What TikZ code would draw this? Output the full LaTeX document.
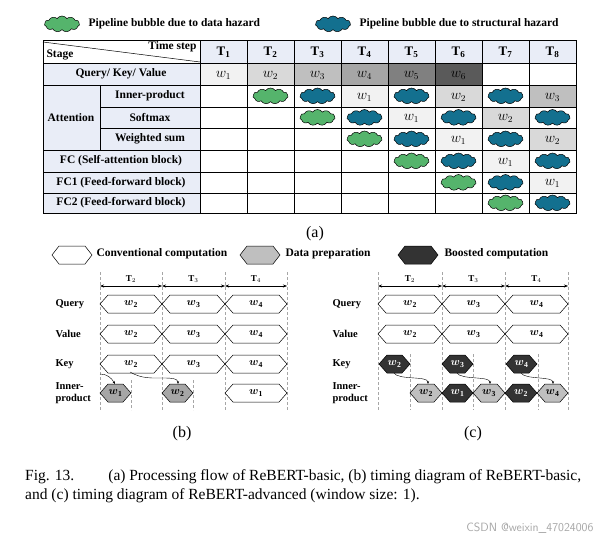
\documentclass[tikz,border=0pt]{standalone}
\usepackage{fontspec}
\usepackage{amsmath}
\setmainfont{Liberation Serif}
\usetikzlibrary{shapes.symbols,arrows.meta}
\definecolor{hdr}{HTML}{E9EDF7}
\definecolor{gb}{HTML}{55B46C}
\definecolor{bb}{HTML}{13708F}
\definecolor{ga}{HTML}{F2F2F2}
\definecolor{gbx}{HTML}{D9D9D9}
\definecolor{gc}{HTML}{BFBFBF}
\definecolor{gd}{HTML}{A6A6A6}
\definecolor{ge}{HTML}{808080}
\definecolor{gf}{HTML}{5A5A5A}
\definecolor{dk}{HTML}{333333}
\tikzset{
 cl/.style={cloud,cloud puffs=11,cloud puff arc=110,aspect=2.4,minimum width=35pt,minimum height=16pt,inner sep=0pt,draw=black,line width=0.5pt},
 gcl/.style={cl,fill=gb}, bcl/.style={cl,fill=bb},
 lab/.style={font=\bfseries\fontsize{11.5}{13}\selectfont},
 tl/.style={font=\bfseries\fontsize{9}{10}\selectfont},
 hx/.style={draw=black,line width=0.5pt},
 vd/.style={densely dashed,gray!70,line width=0.4pt},
 ar/.style={-{Stealth[length=3pt]},line width=0.4pt},
 wt/.style={font=\fontsize{13.5}{15}\selectfont},
}
\newcommand{\hexw}[6]{%
 \draw[hx,fill=#4] (#1,#3) -- ({#1+8},{#3-9}) -- ({#2-8},{#3-9}) -- (#2,#3) -- ({#2-8},{#3+9}) -- ({#1+8},{#3+9}) -- cycle;
 \node[font=\bfseries\fontsize{11}{12}\selectfont,text=#5,inner sep=1pt] at ({(#1+#2)/2},#3) {$\boldsymbol{w}_{\mathbf{#6}}$};}
\begin{document}
\begin{tikzpicture}[x=1pt,y=-1pt]
\useasboundingbox (0,0) rectangle (610,549);
% legend top
\node[gcl] (lg) at (62,24) {};
\node[lab,anchor=west] (lgt) at (85,24) {Pipeline bubble due to data hazard};
\node[bcl] (lbc) at (333,24) {};
\node[lab,anchor=west] (lbt) at (356,24) {Pipeline bubble due to structural hazard};
% table fills
\fill[hdr] (43,40) rectangle (576,63);
\fill[hdr] (43,63) rectangle (200,213);
\fill[white] (43,40) rectangle (200,63);
\foreach \c/\i in {ga/0,gbx/1,gc/2,gd/3,ge/4,gf/5} \fill[\c] ({200+47*\i},63) rectangle ({247+47*\i},85);
\newcommand{\fc}[4]{\fill[#1] ({200+47*(#2-1)},#3) rectangle ({200+47*#2},#4);}
\fc{ga}{4}{85}{107}\fc{gbx}{6}{85}{107}\fc{gc}{8}{85}{107}
\fc{ga}{5}{107}{128}\fc{gbx}{7}{107}{128}
\fc{ga}{6}{128}{150}\fc{gbx}{8}{128}{150}
\fc{ga}{7}{150}{172}
\fc{ga}{8}{172}{193}
% grid
\draw[line width=0.6pt] (43,40) rectangle (576,213);
\foreach \y in {63,85,150,172,193} \draw[line width=0.6pt] (43,\y) -- (576,\y);
\foreach \y in {107,128} \draw[line width=0.6pt] (100,\y) -- (576,\y);
\foreach \i in {0,...,7} \draw[line width=0.6pt] ({200+47*\i},40) -- ({200+47*\i},213);
\draw[line width=0.6pt] (100,85) -- (100,150);
\draw[line width=0.5pt] (43,42) -- (200,62);
\node[lab,anchor=west] (stg) at (43,55) {Stage};
\node[lab,anchor=east] (ts) at (200,47) {Time step};
\foreach \i in {1,...,8} \node[font=\bfseries\fontsize{13}{15}\selectfont] (T\i) at ({176.5+47*\i},52) {T$_{\mathbf{\i}}$};
\node[lab] (qkv) at (121,74) {Query/ Key/ Value};
\node[lab] (att) at (71,117.5) {Attention};
\node[lab] (ip) at (150,96) {Inner-product};
\node[lab] (sm) at (150,117.5) {Softmax};
\node[lab] (ws) at (150,139) {Weighted sum};
\node[lab] (fc) at (121,161) {FC (Self-attention block)};
\node[lab] (fc1) at (121,182.5) {FC1 (Feed-forward block)};
\node[lab] (fc2) at (121,203) {FC2 (Feed-forward block)};
\foreach \i in {1,...,6} \node[wt] (q\i) at ({176.5+47*\i},75) {$w_{\i}$};
\newcommand{\wc}[3]{\node[wt] (c#1#2) at ({176.5+47*#1},#2+1) {$w_{#3}$};}
\newcommand{\gcell}[2]{\node[gcl] (g#1#2) at ({176.5+47*#1},#2) {};}
\newcommand{\bcell}[2]{\node[bcl] (b#1#2) at ({176.5+47*#1},#2) {};}
\gcell{2}{96}\bcell{3}{96}\wc{4}{96}{1}\bcell{5}{96}\wc{6}{96}{2}\bcell{7}{96}\wc{8}{96}{3}
\gcell{3}{117.5}\bcell{4}{117.5}\wc{5}{117.5}{1}\bcell{6}{117.5}\wc{7}{117.5}{2}\bcell{8}{117.5}
\gcell{4}{139}\bcell{5}{139}\wc{6}{139}{1}\bcell{7}{139}\wc{8}{139}{2}
\gcell{5}{161}\bcell{6}{161}\wc{7}{161}{1}\bcell{8}{161}
\gcell{6}{182.5}\bcell{7}{182.5}\wc{8}{182.5}{1}
\gcell{7}{203}\bcell{8}{203}
\node[font=\fontsize{16}{18}\selectfont] (la) at (315,234) {(a)};
% legend bottom
\draw[hx,fill=white] (52,255) -- (59,246) -- (85,246) -- (92,255) -- (85,264) -- (59,264) -- cycle;
\node[lab,anchor=west] (l1) at (93,254) {Conventional computation};
\draw[hx,fill=gc] (240,255) -- (247,246) -- (273,246) -- (280,255) -- (273,264) -- (247,264) -- cycle;
\node[lab,anchor=west] (l2) at (282,254) {Data preparation};
\draw[hx,fill=dk] (398,255) -- (405,246) -- (431,246) -- (438,255) -- (431,264) -- (405,264) -- cycle;
\node[lab,anchor=west] (l3) at (441,254) {Boosted computation};
% (b)
\foreach \x in {100,162,225,287} \draw[vd] (\x,272) -- (\x,410);
\foreach \x in {131,193} \draw[vd] (\x,380) -- (\x,410);
\foreach \a/\b/\t in {100/162/2,162/225/3,225/287/4} {\draw[{Stealth[length=4pt]}-{Stealth[length=4pt]},line width=0.5pt] (\a,286) -- (\b,286); \node[tl] at ({(\a+\b)/2},279) {T$_{\t}$};}
\foreach \n/\y in {Query/304,Value/334,Key/364} \node[lab,anchor=west,font=\bfseries\fontsize{10.5}{12}\selectfont] (b\n) at (52,\y) {\n};
\node[lab,anchor=west,align=left,font=\bfseries\fontsize{10.5}{12.5}\selectfont] (bIP) at (52,393) {Inner-\\product};
\foreach \y in {304,334,364} {\hexw{100}{162}{\y}{white}{black}{2}\hexw{162}{225}{\y}{white}{black}{3}\hexw{225}{287}{\y}{white}{black}{4}}
\coordinate (bkl) at (100,374); \coordinate (bk2) at (130,372);
\hexw{100}{131}{393}{gd}{black}{1}\coordinate (bi1) at (115,384);
\hexw{162}{193}{393}{gd}{black}{2}\coordinate (bi2) at (178,384);
\hexw{225}{287}{393}{white}{black}{1}
\draw[ar] (bkl) to[out=0,in=120] (bi1);
\draw[ar] (bk2) to[out=-30,in=180] (165,378) to[out=0,in=90] (bi2);
\node[font=\fontsize{16}{18}\selectfont] (lbl) at (182,434) {(b)};
% (c)
\foreach \x in {378,442,505,568} \draw[vd] (\x,272) -- (\x,410);
\foreach \x in {410,473,538} \draw[vd] (\x,354) -- (\x,410);
\foreach \a/\b/\t in {378/442/2,442/505/3,505/568/4} {\draw[{Stealth[length=4pt]}-{Stealth[length=4pt]},line width=0.5pt] (\a,286) -- (\b,286); \node[tl] at ({(\a+\b)/2},279) {T$_{\t}$};}
\foreach \n/\y in {Query/304,Value/334,Key/364} \node[lab,anchor=west,font=\bfseries\fontsize{10.5}{12}\selectfont] (c\n) at (329,\y) {\n};
\node[lab,anchor=west,align=left,font=\bfseries\fontsize{10.5}{12.5}\selectfont] (cIP) at (329,393) {Inner-\\product};
\foreach \y in {304,334} {\hexw{378}{442}{\y}{white}{black}{2}\hexw{442}{505}{\y}{white}{black}{3}\hexw{505}{568}{\y}{white}{black}{4}}
\hexw{379}{410}{364}{dk}{white}{2}\hexw{442}{473}{364}{dk}{white}{3}\hexw{506}{537}{364}{dk}{white}{4}
\coordinate (ck2) at (394,373); \coordinate (ck3) at (457,373); \coordinate (ck4) at (521,373);
\hexw{410}{442}{393}{gc}{black}{2}\hexw{442}{473}{393}{dk}{white}{1}\hexw{473}{505}{393}{gc}{black}{3}\hexw{505}{537}{393}{dk}{white}{2}\hexw{537}{568}{393}{gc}{black}{4}
\coordinate (ci2) at (428,384); \coordinate (ci3) at (490,384); \coordinate (ci4) at (553,384);
\foreach \a/\b in {ck2/ci2,ck3/ci3,ck4/ci4} \draw[ar] (\a) to[out=-60,in=90,looseness=0.6] (\b);
\node[font=\fontsize{16}{18}\selectfont] (lcl) at (473,434) {(c)};
% caption
\node[anchor=north west,text width=556pt,align=justify,font=\fontsize{15.5}{19}\selectfont,inner sep=0pt] (cap) at (25,469) {Fig. 13.\hspace{2.2em}(a) Processing flow of ReBERT-basic, (b) timing diagram of ReBERT-basic, and (c) timing diagram of ReBERT-advanced (window size: 1).};
\node[anchor=east,text=gray!70,font=\sffamily\fontsize{12}{13}\selectfont] (wm) at (597,528) {CSDN @weixin\_47024006};
\end{tikzpicture}
\end{document}
